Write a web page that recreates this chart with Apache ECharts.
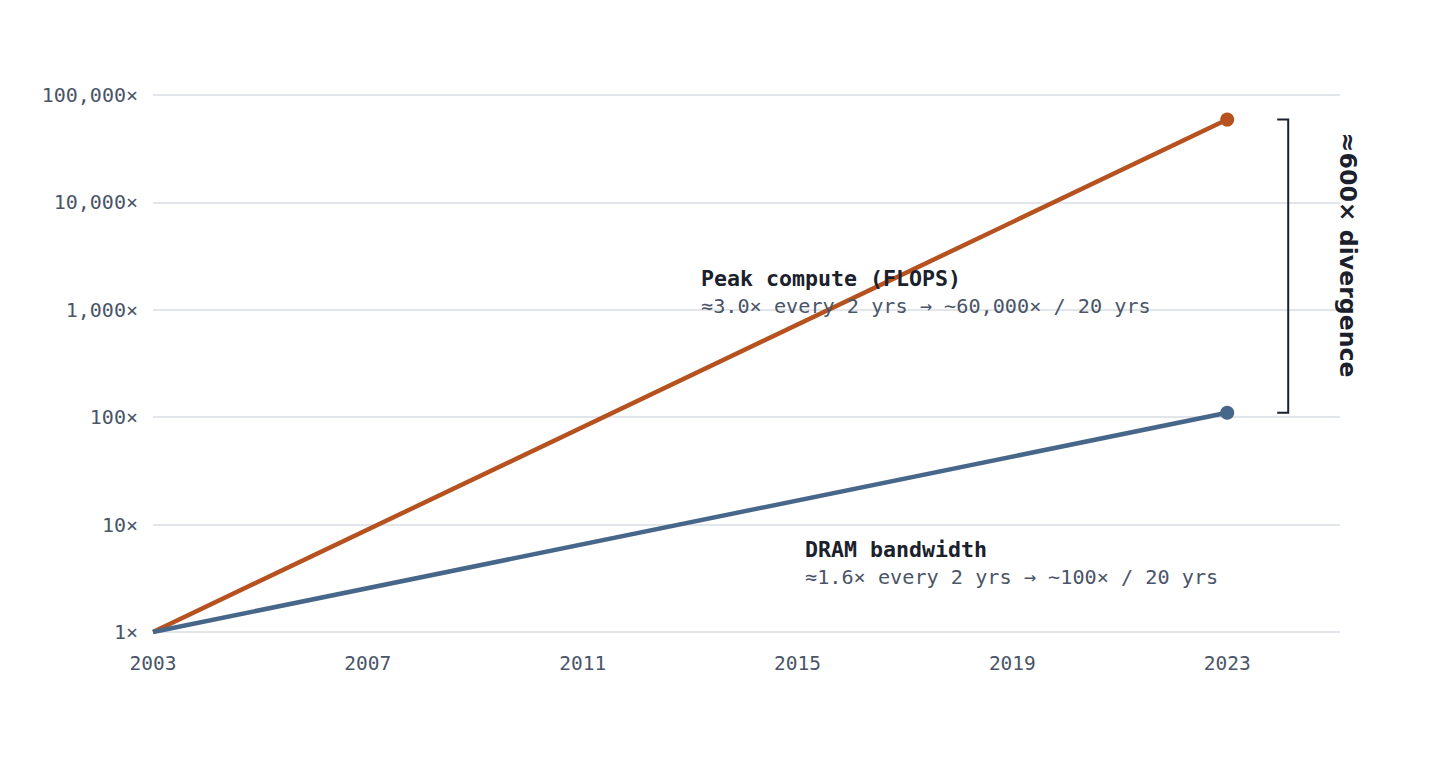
<!DOCTYPE html>
<html>
<head>
<meta charset="utf-8">
<script src="https://cdn.jsdelivr.net/npm/echarts@6/dist/echarts.min.js"></script>
<style>
  html, body { margin: 0; padding: 0; background: #fff; }
  #chart { width: 1456px; height: 766px; }
</style>
</head>
<body>
<div id="chart"></div>
<script>
// data
const years = [2003, 2023];
const computeGrowth = [1, 59049];   // ~3.0x every 2 yrs
const dramGrowth = [1, 110];        // ~1.6x every 2 yrs
const yTicks = [1, 10, 100, 1000, 10000, 100000];
const xTicks = [2003, 2007, 2011, 2015, 2019, 2023];

const computeLabel = ['Peak compute (FLOPS)', '≈3.0× every 2 yrs → ~60,000× / 20 yrs'];
const dramLabel = ['DRAM bandwidth', '≈1.6× every 2 yrs → ~100× / 20 yrs'];
const divergenceLabel = '≈600× divergence';

const ORANGE = '#b5521f';
const BLUE = '#46668a';
const MONO = '"DejaVu Sans Mono", monospace';

const chart = echarts.init(document.getElementById('chart'), null, { renderer: 'svg' });

function endDotSize(n) {
  return (val, params) => (params.dataIndex === n - 1 ? 14 : 0);
}

const option = {
  animation: false,
  backgroundColor: '#fff',
  grid: { left: 153, right: 116, top: 95, bottom: 134 },
  xAxis: {
    type: 'value',
    min: 2003,
    max: 2025.1,
    interval: 4,
    axisLine: { show: false },
    axisTick: { show: false },
    splitLine: { show: false },
    axisLabel: {
      showMaxLabel: false,
      margin: 21,
      color: '#4a5568',
      fontFamily: MONO,
      fontSize: 19.5,
      formatter: (v) => (xTicks.includes(v) ? String(v) : ''),
    },
  },
  yAxis: {
    type: 'log',
    logBase: 10,
    min: yTicks[0],
    max: yTicks[yTicks.length - 1],
    axisLine: { show: false },
    axisTick: { show: false },
    splitLine: { show: true, lineStyle: { color: '#d9dee4', width: 1.5 } },
    axisLabel: {
      margin: 15,
      color: '#4a5568',
      fontFamily: MONO,
      fontSize: 20,
      formatter: (v) => Math.round(v).toLocaleString('en-US') + '×',
    },
  },
  series: [
    {
      name: computeLabel[0],
      type: 'line',
      data: years.map((y, i) => [y, computeGrowth[i]]),
      symbol: 'circle',
      symbolSize: endDotSize(years.length),
      lineStyle: { color: ORANGE, width: 4.5 },
      itemStyle: { color: ORANGE },
      z: 3,
    },
    {
      name: dramLabel[0],
      type: 'line',
      data: years.map((y, i) => [y, dramGrowth[i]]),
      symbol: 'circle',
      symbolSize: endDotSize(years.length),
      lineStyle: { color: BLUE, width: 4.5 },
      itemStyle: { color: BLUE },
      z: 3,
    },
  ],
};

chart.setOption(option);

// annotations + bracket placed from the chart's own scales
const last = years.length - 1;
const topPt = chart.convertToPixel({ gridIndex: 0 }, [years[last], computeGrowth[last]]);
const botPt = chart.convertToPixel({ gridIndex: 0 }, [years[last], dramGrowth[last]]);
const bx = topPt[0] + 61;

function annotation(lines, left, top) {
  return [
    {
      type: 'text', left: left, top: top, z: 10,
      style: { text: lines[0], fill: '#1a202c', font: 'bold 21.6px ' + MONO },
    },
    {
      type: 'text', left: left, top: top + 29, z: 10,
      style: { text: lines[1], fill: '#4a5568', font: '20.2px ' + MONO },
    },
  ];
}

chart.setOption({
  graphic: [
    ...annotation(computeLabel, 701, 267),
    ...annotation(dramLabel, 805, 538),
    {
      type: 'polyline',
      z: 5,
      shape: { points: [[bx - 11, topPt[1]], [bx, topPt[1]], [bx, botPt[1]], [bx - 11, botPt[1]]] },
      style: { stroke: '#1a202c', lineWidth: 2, fill: null },
    },
    {
      type: 'text',
      z: 10,
      x: bx + 60,
      y: (topPt[1] + botPt[1]) / 2 - 11,
      rotation: -Math.PI / 2,
      style: {
        text: divergenceLabel,
        fill: '#1a202c',
        font: 'bold 23.6px "DejaVu Sans", sans-serif',
        align: 'center',
        verticalAlign: 'middle',
      },
    },
  ],
});
</script>
</body>
</html>
